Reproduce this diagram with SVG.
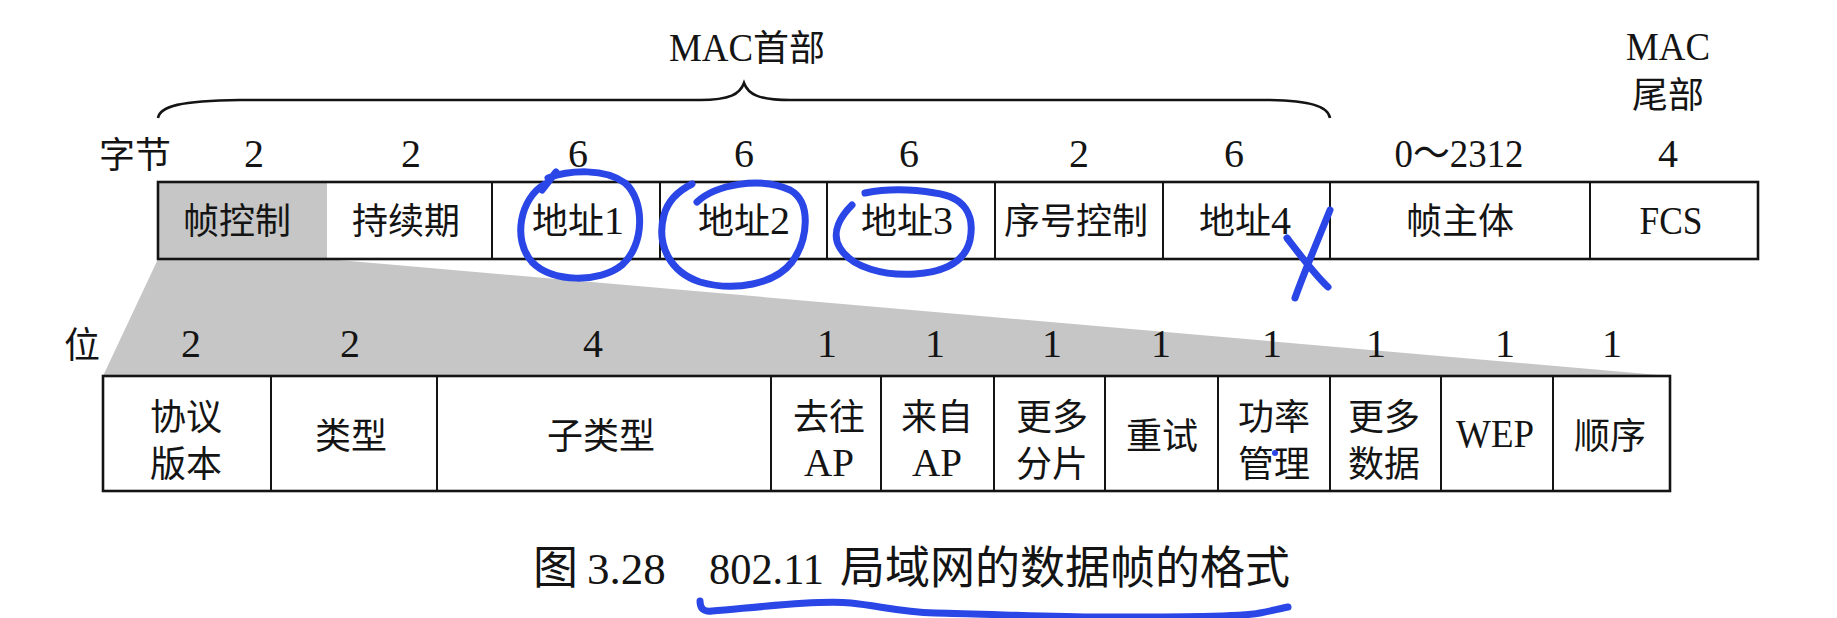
<svg xmlns="http://www.w3.org/2000/svg" width="1837" height="618" viewBox="0 0 1837 618">
<style>
  .t { font-family: "Liberation Serif", "Noto Sans CJK SC", serif; font-size: 36px; fill: #141414; text-anchor: middle; }
  .n { font-size: 40px; }
  .l { text-anchor: start; }
  .cap { font-family: "Liberation Serif", "Noto Sans CJK SC", serif; font-size: 45px; fill: #141414; }
  .box { fill: none; stroke: #141414; stroke-width: 2.6; }
  .div { stroke: #141414; stroke-width: 2; }
  .shade { fill: #c6c6c6; }
  .brace { fill: none; stroke: #141414; stroke-width: 2.6; }
  .ink { fill: none; stroke: #2b46e6; stroke-width: 7; stroke-linecap: round; stroke-linejoin: round; }
</style>
<rect width="1837" height="618" fill="#ffffff"/>

<g id="connectors">
  <polygon class="shade" points="158,259 327,259 1670,376 103,376"/>
  <path class="brace" d="M158,118 C160,106 180,101 240,100 L700,100 C730,100 740,94 744,83 C748,94 758,100 790,100 L1270,100 C1310,101 1328,106 1330,118"/>
</g>

<g id="labels">
  <text class="t n l" x="669" y="61" textLength="84" lengthAdjust="spacingAndGlyphs">MAC</text>
  <text class="t l" x="753" y="61">首部</text>
  <text class="t n" x="1668" y="60" textLength="84" lengthAdjust="spacingAndGlyphs">MAC</text>
  <text class="t" x="1668" y="108">尾部</text>
  <text class="t l" x="99" y="168">字节</text>
  <text class="t n" x="254" y="167">2</text>
  <text class="t n" x="411" y="167">2</text>
  <text class="t n" x="578" y="167">6</text>
  <text class="t n" x="744" y="167">6</text>
  <text class="t n" x="909" y="167">6</text>
  <text class="t n" x="1079" y="167">2</text>
  <text class="t n" x="1234" y="167">6</text>
  <text class="t n" x="1459" y="167" textLength="129" lengthAdjust="spacingAndGlyphs">0～2312</text>
  <text class="t n" x="1668" y="167">4</text>
  <text class="t l" x="64" y="358">位</text>
  <text class="t n" x="191" y="357">2</text>
  <text class="t n" x="350" y="357">2</text>
  <text class="t n" x="593" y="357">4</text>
  <text class="t n" x="827" y="357">1</text>
  <text class="t n" x="935" y="357">1</text>
  <text class="t n" x="1052" y="357">1</text>
  <text class="t n" x="1161" y="357">1</text>
  <text class="t n" x="1272" y="357">1</text>
  <text class="t n" x="1376" y="357">1</text>
  <text class="t n" x="1505" y="357">1</text>
  <text class="t n" x="1612" y="357">1</text>
</g>

<g id="mac-frame">
  <rect class="shade" x="158" y="182" width="169" height="77"/>
  <rect class="box" x="158" y="182" width="1600" height="77"/>
  <line class="div" x1="492" y1="182" x2="492" y2="259"/>
  <line class="div" x1="660" y1="182" x2="660" y2="259"/>
  <line class="div" x1="827" y1="182" x2="827" y2="259"/>
  <line class="div" x1="995" y1="182" x2="995" y2="259"/>
  <line class="div" x1="1163" y1="182" x2="1163" y2="259"/>
  <line class="div" x1="1330" y1="182" x2="1330" y2="259"/>
  <line class="div" x1="1590" y1="182" x2="1590" y2="259"/>
</g>
<g id="f-frame-control"><text class="t" x="237" y="234">帧控制</text></g>
<g id="f-duration"><text class="t" x="406" y="234">持续期</text></g>
<g id="f-addr1"><text class="t" x="578" y="234">地址<tspan class="n">1</tspan></text></g>
<g id="f-addr2"><text class="t" x="744" y="234">地址<tspan class="n">2</tspan></text></g>
<g id="f-addr3"><text class="t" x="907" y="234">地址<tspan class="n">3</tspan></text></g>
<g id="f-seq"><text class="t" x="1076" y="234">序号控制</text></g>
<g id="f-addr4"><text class="t" x="1245" y="234">地址<tspan class="n">4</tspan></text></g>
<g id="f-body"><text class="t" x="1460" y="234">帧主体</text></g>
<g id="f-fcs"><text class="t n" x="1671" y="234" textLength="63" lengthAdjust="spacingAndGlyphs">FCS</text></g>

<g id="fc-frame">
  <rect class="box" x="103" y="376" width="1567" height="115"/>
  <line class="div" x1="271" y1="376" x2="271" y2="491"/>
  <line class="div" x1="437" y1="376" x2="437" y2="491"/>
  <line class="div" x1="771" y1="376" x2="771" y2="491"/>
  <line class="div" x1="881" y1="376" x2="881" y2="491"/>
  <line class="div" x1="994" y1="376" x2="994" y2="491"/>
  <line class="div" x1="1105" y1="376" x2="1105" y2="491"/>
  <line class="div" x1="1218" y1="376" x2="1218" y2="491"/>
  <line class="div" x1="1330" y1="376" x2="1330" y2="491"/>
  <line class="div" x1="1441" y1="376" x2="1441" y2="491"/>
  <line class="div" x1="1553" y1="376" x2="1553" y2="491"/>
</g>
<g id="b-protocol"><text class="t" x="186" y="430">协议</text><text class="t" x="186" y="477">版本</text></g>
<g id="b-type"><text class="t" x="351" y="449">类型</text></g>
<g id="b-subtype"><text class="t" x="601" y="449">子类型</text></g>
<g id="b-tods"><text class="t" x="829" y="430">去往</text><text class="t n" x="829" y="476" textLength="50" lengthAdjust="spacingAndGlyphs">AP</text></g>
<g id="b-fromds"><text class="t" x="937" y="430">来自</text><text class="t n" x="937" y="476" textLength="50" lengthAdjust="spacingAndGlyphs">AP</text></g>
<g id="b-morefrag"><text class="t" x="1052" y="430">更多</text><text class="t" x="1052" y="477">分片</text></g>
<g id="b-retry"><text class="t" x="1162" y="449">重试</text></g>
<g id="b-pwr"><text class="t" x="1274" y="430">功率</text><text class="t" x="1274" y="477">管理</text></g>
<g id="b-moredata"><text class="t" x="1384" y="430">更多</text><text class="t" x="1384" y="477">数据</text></g>
<g id="b-wep"><text class="t n" x="1495" y="447" textLength="78" lengthAdjust="spacingAndGlyphs">WEP</text></g>
<g id="b-order"><text class="t" x="1610" y="449">顺序</text></g>

<g id="caption">
  <text class="cap" y="584"><tspan x="533">图</tspan><tspan x="587">3.28</tspan></text>
  <text class="cap" x="709" y="584" textLength="115" lengthAdjust="spacingAndGlyphs">802.11</text>
  <text class="cap" x="840" y="584">局域网的数据帧的格式</text>
</g>

<g id="annotations">
  <path class="ink" d="M556,172 L542,190 M545,184 C520,198 512,240 532,262 C552,283 600,283 622,265 C645,245 645,200 625,183 C605,168 570,170 548,178"/>
  <path class="ink" d="M697,202 C715,185 760,176 790,190 C812,202 808,240 792,262 C775,284 735,292 700,282 C670,272 656,245 664,215 C668,200 680,190 692,184"/>
  <path class="ink" d="M852,205 C842,215 830,232 840,248 C852,268 885,276 915,274 C945,272 965,262 970,240 C975,215 965,197 935,193 C905,188 880,190 865,193"/>
  <path class="ink" d="M1330,210 C1318,240 1305,270 1295,298 M1287,238 C1300,255 1315,275 1328,287"/>
  <path class="ink" d="M700,601 C700,608 703,612 712,611 C760,607 820,600 851,603 C880,606 900,612 935,613 C990,614 1050,617 1100,617 C1180,617 1240,617 1260,613 C1275,610 1283,608 1288,607"/>
  <circle cx="1275" cy="453" r="3" fill="#2b46e6"/>
</g>
</svg>
